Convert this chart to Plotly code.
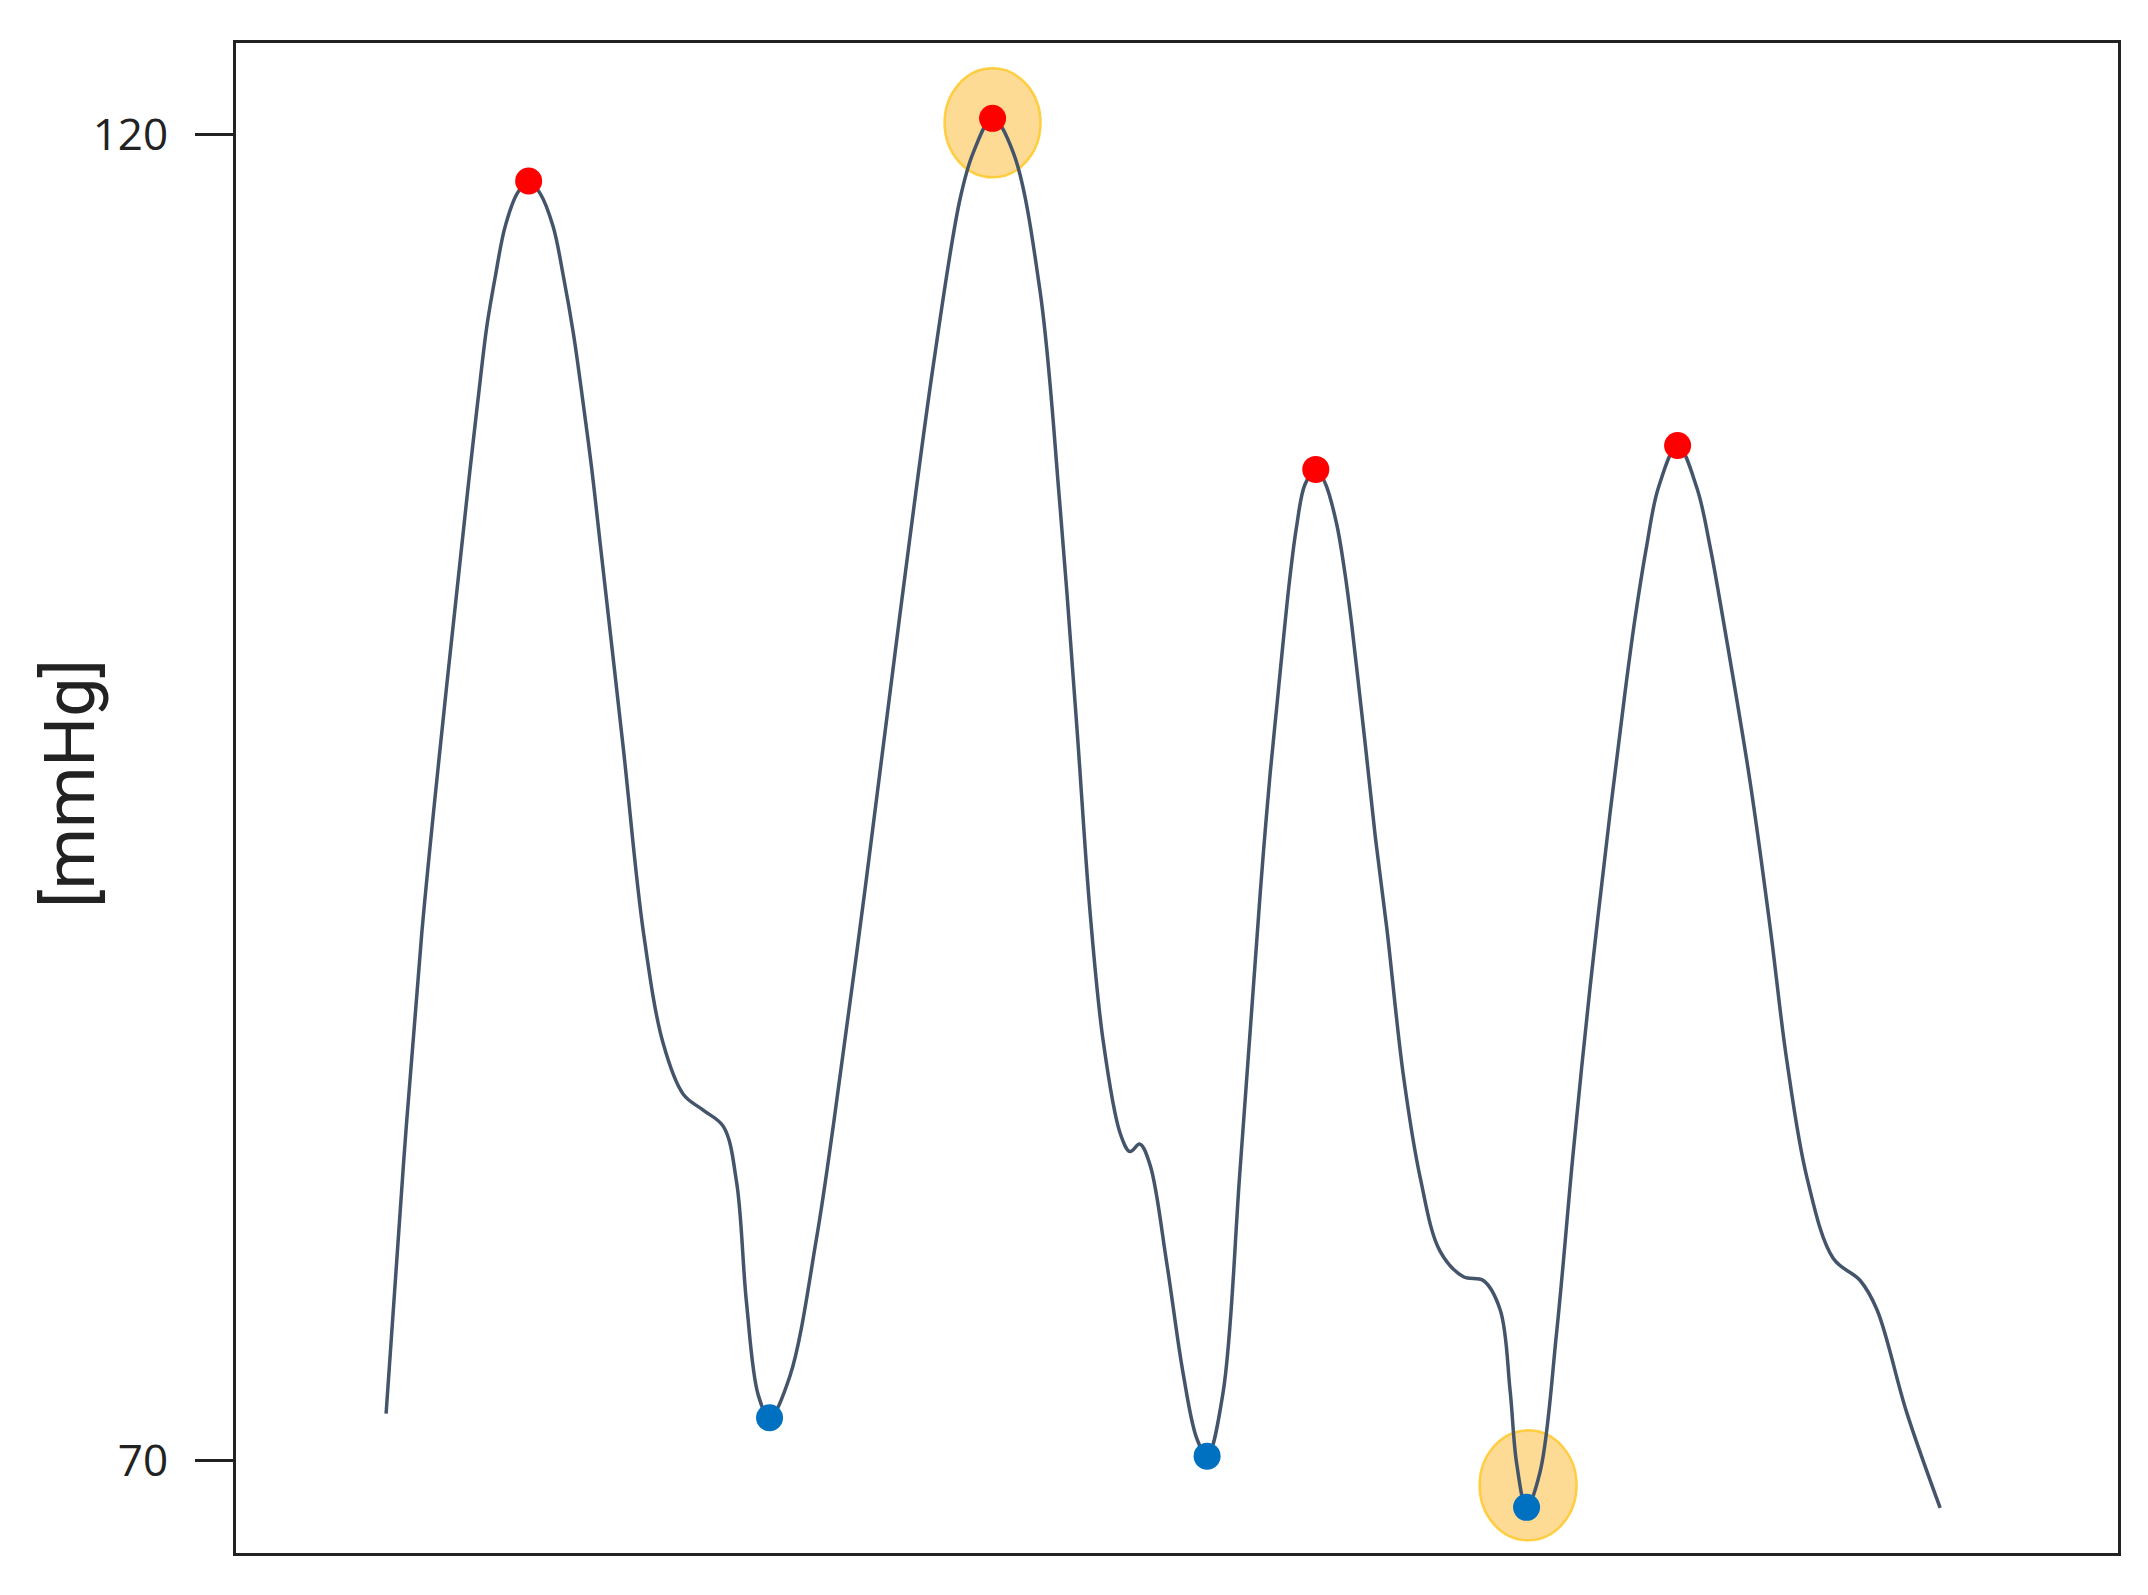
import plotly.graph_objects as go

# arterial pressure trace (time in s, pressure in mmHg)
time_s = [0.319, 0.356, 0.395, 0.434, 0.476, 0.497, 0.515, 0.533, 0.551, 0.572,
          0.598, 0.622, 0.646, 0.674, 0.696, 0.717, 0.735, 0.756, 0.774, 0.823,
          0.866, 0.908, 0.951, 0.993, 1.036, 1.064, 1.085, 1.110, 1.134, 1.177,
          1.234, 1.270, 1.340, 1.411, 1.482, 1.539, 1.567, 1.608, 1.652, 1.709,
          1.751, 1.787, 1.815, 1.843, 1.879, 1.900, 1.921, 1.943, 1.978, 2.013,
          2.042, 2.064, 2.098, 2.134, 2.177, 2.187, 2.198, 2.212, 2.226, 2.240,
          2.254, 2.272, 2.295, 2.315, 2.339, 2.357, 2.371, 2.385, 2.403, 2.421,
          2.446, 2.481, 2.517, 2.559, 2.609, 2.651, 2.687, 2.708, 2.722, 2.743,
          2.772, 2.807, 2.842, 2.878, 2.921, 2.952, 2.973, 2.998, 3.023, 3.064,
          3.105, 3.133, 3.161, 3.218, 3.261, 3.296, 3.339, 3.395, 3.452, 3.488,
          3.551, 3.622]
pressure = [71.78, 81.20, 89.92, 96.89, 103.86, 107.30, 110.10, 112.75, 114.63, 116.52,
            117.78, 118.24, 117.78, 116.52, 114.63, 112.50, 110.24, 107.40, 104.58, 96.89,
            89.92, 85.73, 83.81, 83.22, 82.60, 80.50, 75.97, 72.48, 71.63, 73.18,
            78.41, 82.70, 91.96, 101.88, 111.29, 117.57, 119.31, 120.60, 119.31, 114.08,
            106.06, 97.70, 90.73, 85.84, 82.36, 81.66, 81.94, 81.14, 77.48, 73.30,
            70.85, 70.18, 72.59, 80.97, 91.43, 93.65, 95.91, 98.42, 100.94, 103.30,
            105.20, 106.80, 107.37, 106.85, 105.34, 103.45, 101.57, 99.40, 96.54, 93.60,
            90.07, 84.55, 80.67, 77.91, 76.94, 76.80, 75.69, 72.65, 69.89, 68.25,
            69.61, 74.87, 81.60, 87.86, 94.50, 98.93, 101.69, 104.46, 106.67, 108.27,
            106.67, 104.46, 101.69, 95.60, 90.07, 85.10, 80.67, 77.63, 76.80, 75.69,
            71.82, 68.23]

# systolic peaks and diastolic troughs
sys_t = [0.622, 1.608, 2.295, 3.064]
sys_p = [118.24, 120.60, 107.37, 108.27]
dia_t = [1.134, 2.064, 2.743]
dia_p = [71.63, 70.18, 68.25]

y_ticks = [70, 120]

# highest systolic and lowest diastolic get a highlight
i_max = sys_p.index(max(sys_p))
i_min = dia_p.index(min(dia_p))

fig = go.Figure()

fig.add_trace(go.Scatter(
    x=time_s, y=pressure, mode="lines",
    line=dict(color="#44546A", width=3.5, shape="spline", smoothing=1.0),
    hoverinfo="skip",
))
fig.add_trace(go.Scatter(
    x=sys_t, y=sys_p, mode="markers",
    marker=dict(color="#FF0000", size=27),
))
fig.add_trace(go.Scatter(
    x=dia_t, y=dia_p, mode="markers",
    marker=dict(color="#0070C0", size=27),
))

hl_style = dict(
    type="circle", xref="x", yref="y",
    xsizemode="pixel", ysizemode="pixel",
    fillcolor="rgba(252,190,60,0.55)",
    line=dict(color="rgba(255,200,40,0.85)", width=2.5),
    layer="below",
)
fig.add_shape(xanchor=sys_t[i_max], yanchor=sys_p[i_max],
              x0=-48, x1=48, y0=-59, y1=50, **hl_style)
fig.add_shape(xanchor=dia_t[i_min], yanchor=dia_p[i_min],
              x0=-47, x1=50, y0=-33, y1=77, **hl_style)

# y-axis title placed as a rotated annotation
fig.add_annotation(
    text="[mmHg]", textangle=-90,
    xref="paper", yref="paper", x=0, y=0.5,
    xanchor="center", yanchor="middle",
    xshift=-166, yshift=14, showarrow=False,
    font=dict(family="Roboto, Open Sans, sans-serif", size=70, color="#222222"),
)

fig.update_layout(
    width=2132, height=1579,
    paper_bgcolor="white", plot_bgcolor="white",
    showlegend=False,
    margin=dict(l=228, r=22, t=35, b=34),
    font=dict(family="Open Sans, Noto Sans, sans-serif", color="#222222"),
)
fig.update_xaxes(
    range=[0, 4.0], showticklabels=False, ticks="",
    showgrid=False, zeroline=False,
    showline=True, linecolor="#222222", linewidth=3, mirror=True,
)
fig.update_yaxes(
    range=[66.53, 123.44], tickvals=y_ticks,
    ticks="outside", ticklen=38, tickwidth=3, tickcolor="#222222",
    tickfont=dict(size=44, color="#222222"),
    ticklabelstandoff=18,
    showgrid=False, zeroline=False,
    showline=True, linecolor="#222222", linewidth=3, mirror=True,
)

fig.write_html("out.html")
